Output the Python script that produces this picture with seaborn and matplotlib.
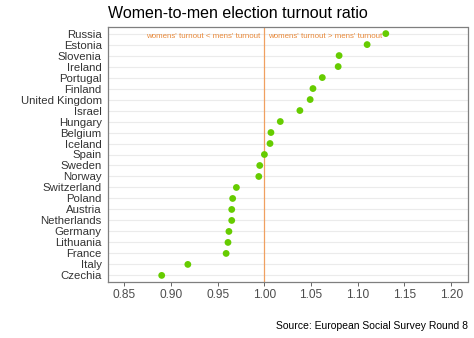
import matplotlib
matplotlib.use("Agg")
import matplotlib.pyplot as plt
import seaborn as sns
import pandas as pd

countries = ["Russia", "Estonia", "Slovenia", "Ireland", "Portugal", "Finland",
             "United Kingdom", "Israel", "Hungary", "Belgium", "Iceland", "Spain",
             "Sweden", "Norway", "Switzerland", "Poland", "Austria", "Netherlands",
             "Germany", "Lithuania", "France", "Italy", "Czechia"]
ratio = [1.130, 1.110, 1.080, 1.079, 1.062, 1.052, 1.049, 1.038, 1.017, 1.007,
         1.006, 1.000, 0.995, 0.994, 0.970, 0.966, 0.965, 0.965, 0.962, 0.961,
         0.959, 0.918, 0.890]
x_ticks = [0.85, 0.90, 0.95, 1.00, 1.05, 1.10, 1.15, 1.20]

df = pd.DataFrame({"country": countries, "ratio": ratio})

sns.set_theme(style="white")
plt.rcParams["font.family"] = ["Liberation Sans", "DejaVu Sans"]

fig = plt.figure(figsize=(4.74, 3.38), dpi=100)
ax = fig.add_axes([108 / 474, 1 - 282 / 338, (467.5 - 108) / 474, (282 - 27) / 338])

for y in range(len(countries)):
    ax.axhline(y, color="#EBEBEB", lw=0.8, zorder=0)

ax.axvline(1.0, color="#F0A060", lw=0.9, zorder=1)

sns.scatterplot(data=df, x="ratio", y="country", ax=ax, color="#66CC00",
                s=24, edgecolor="none", zorder=3, legend=False)

ax.set_xlim(0.8325, 1.2175)
ax.set_ylim(len(countries) - 0.4, -0.6)
ax.set_xticks(x_ticks)
ax.set_xticklabels([f"{t:.2f}" for t in x_ticks])
ax.set_xlabel("")
ax.set_ylabel("")
ax.tick_params(axis="x", labelsize=8.6, length=3, width=0.6, colors="#4D4D4D",
               pad=2, bottom=True)
ax.tick_params(axis="y", labelsize=8.2, length=0, pad=4.5)
for lab in ax.get_xticklabels():
    lab.set_color("#4D4D4D")
for lab in ax.get_yticklabels():
    lab.set_color("#333333")
for sp in ax.spines.values():
    sp.set_color("#7F7F7F")
    sp.set_linewidth(0.9)

ax.text(0.996, 0.25, "womens' turnout < mens' turnout", ha="right", va="center",
        fontsize=5.65, color="#E98A3B")
ax.text(1.004, 0.25, "womens' turnout > mens' turnout", ha="left", va="center",
        fontsize=5.65, color="#E98A3B")

fig.text(108 / 474, 1 - 13 / 338, "Women-to-men election turnout ratio",
         ha="left", va="center", fontsize=11.5, color="black")
fig.text(467.5 / 474, 1 - 326 / 338, "Source: European Social Survey Round 8",
         ha="right", va="center", fontsize=7.5, color="black")

fig.savefig("out.png", dpi=100)
